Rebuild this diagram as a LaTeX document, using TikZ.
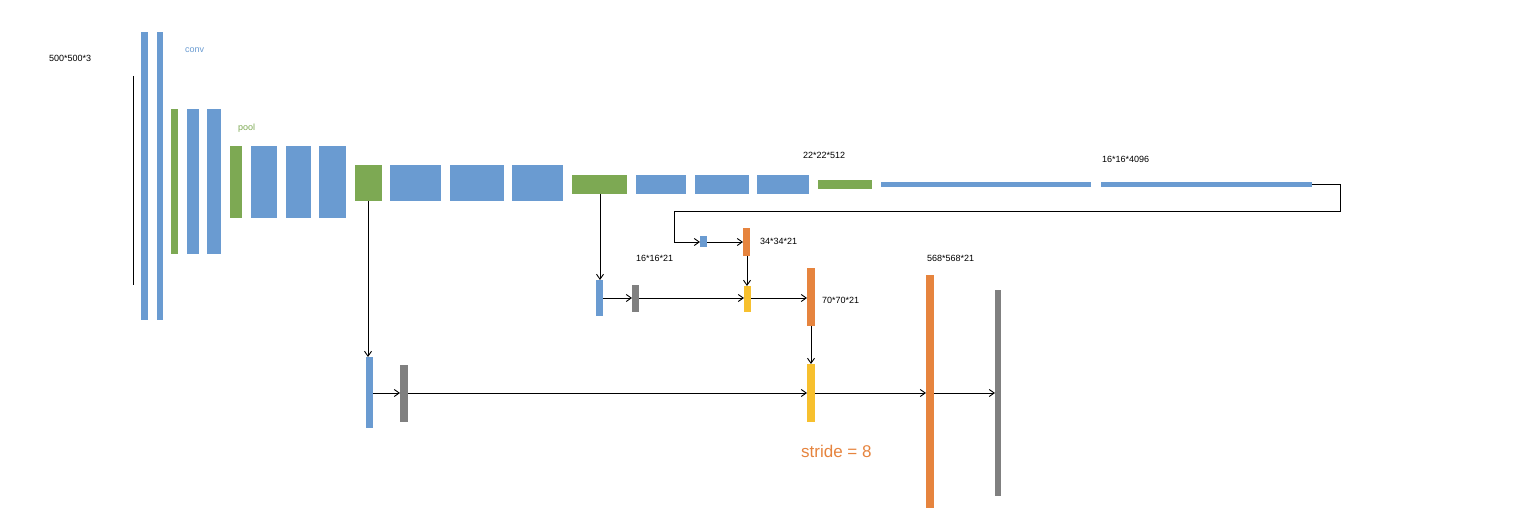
\documentclass[tikz,border=0pt]{standalone}
\usepackage{fontspec}
\setmainfont{Liberation Sans}
\usetikzlibrary{arrows.meta}
\definecolor{cb}{HTML}{6A9BD1}
\definecolor{cg}{HTML}{7DA953}
\definecolor{co}{HTML}{E6843E}
\definecolor{cy}{HTML}{F7C02E}
\definecolor{cgr}{HTML}{808080}
\begin{document}
\begin{tikzpicture}[x=1pt,y=-1pt,
  lbl/.style={font=\fontsize{9}{10}\selectfont,inner sep=0pt},
  arr/.style={-{Straight Barb[length=5pt,width=7pt]},line width=0.9pt},
  ln/.style={line width=1pt}]
\useasboundingbox (0,0) rectangle (1534,526);
\newcommand{\bx}[6]{\fill[#1] (#2,#3) rectangle (#4,#5); \path (#2,#3) -- (#4,#5) coordinate[pos=0.5] (#6);}
% black line
\draw[ln] (133,76) -- (133,285);
\bx{cb}{141}{32}{148}{320}{c1}
\bx{cb}{157}{32}{163}{320}{c2}
\bx{cg}{171}{109}{178}{254}{p1}
\bx{cb}{187}{109}{199}{254}{c3}
\bx{cb}{207}{109}{221}{254}{c4}
\bx{cg}{230}{146}{242}{218}{p2}
\bx{cb}{251}{146}{277}{218}{c5}
\bx{cb}{286}{146}{311}{218}{c6}
\bx{cb}{319}{146}{346}{218}{c7}
\bx{cg}{355}{165}{382}{201}{p3}
\bx{cb}{390}{165}{441}{201}{c8}
\bx{cb}{450}{165}{504}{201}{c9}
\bx{cb}{512}{165}{563}{201}{c10}
\bx{cg}{572}{175}{627}{194}{p4}
\bx{cb}{636}{175}{686}{194}{c11}
\bx{cb}{695}{175}{749}{194}{c12}
\bx{cb}{757}{175}{809}{194}{c13}
\bx{cg}{818}{180}{872}{189}{p5}
\bx{cb}{881}{182}{1091}{187}{f6}
\bx{cb}{1101}{182}{1312}{187}{f7}
% second branch
\bx{cb}{700}{236}{707}{247}{s1}
\bx{co}{743}{228}{750}{256}{u1}
\bx{cb}{596}{280}{603}{316}{s4}
\bx{cgr}{632}{285}{639}{312}{g4}
\bx{cy}{744}{286}{751}{312}{y4}
\bx{co}{807}{268}{815}{326}{u2}
% third branch
\bx{cb}{366}{357}{373}{428}{s3}
\bx{cgr}{400}{365}{408}{422}{g3}
\bx{cy}{807}{364}{815}{422}{y3}
\bx{co}{926}{275}{934}{508}{u3}
\bx{cgr}{995}{290}{1001}{496}{g5}
% connectors
\coordinate (fe) at (1312,184);
\draw[arr] (fe) -- (1340,184) -- (1340,211) -- (674,211) -- (674,242) -- (700,242);
\draw[arr] (707,242) -- (743,242);
\draw[arr] (747,256) -- (747,286);
\draw[arr] (600,194) -- (600,280);
\draw[arr] (603,298) -- (632,298);
\draw[arr] (639,298) -- (744,298);
\draw[arr] (751,298) -- (807,298);
\draw[arr] (811,326) -- (811,364);
\draw[arr] (368,201) -- (368,357);
\draw[arr] (373,393) -- (400,393);
\draw[arr] (408,393) -- (807,393);
\draw[arr] (815,393) -- (926,393);
\draw[arr] (934,393) -- (995,393);
% labels
\node[lbl,anchor=west] (t1) at (49,58) {500*500*3};
\node[lbl,anchor=west,text=cb] (t2) at (185,50) {conv};
\node[lbl,anchor=west,text=cg] (t3) at (238,128) {pool};
\node[lbl,anchor=west] (t4) at (803,155) {22*22*512};
\node[lbl,anchor=west] (t5) at (1102,159) {16*16*4096};
\node[lbl,anchor=west] (t6) at (636,258) {16*16*21};
\node[lbl,anchor=west] (t7) at (760,241) {34*34*21};
\node[lbl,anchor=west] (t8) at (822,300) {70*70*21};
\node[lbl,anchor=west] (t9) at (927,258) {568*568*21};
\node[anchor=west,inner sep=0pt,text=co,font=\fontsize{17}{19}\selectfont] (t10) at (801,451) {stride = 8};
\end{tikzpicture}
\end{document}
